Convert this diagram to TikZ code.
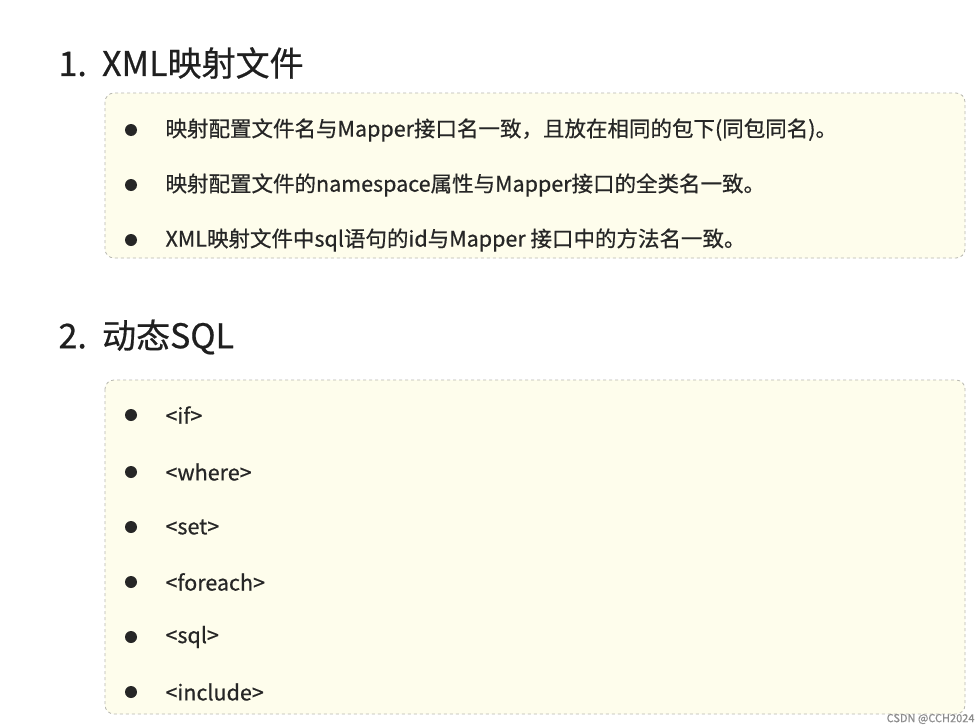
\documentclass[tikz,border=0pt]{standalone}
\usepackage{fontspec}
\setmainfont{Noto Sans CJK SC}[FakeBold=0.6]
\definecolor{boxfill}{HTML}{FEFDEC}
\definecolor{boxline}{HTML}{B8B8B0}
\begin{document}
\begin{tikzpicture}[x=1pt,y=-1pt,
  panel/.style={draw=boxline,dashed,fill=boxfill,rounded corners=9pt,line width=0.8pt},
  title/.style={anchor=west,font=\fontsize{34}{38}\selectfont,text=black!88},
  item/.style={anchor=west,font=\fontsize{21.5}{25}\selectfont,text=black!85},
  dot/.style={circle,fill=black!85,inner sep=0pt,minimum size=12pt}]
\useasboundingbox (0,0) rectangle (980,728);
\fill[white] (0,0) rectangle (980,728);
\node[title] (t1) at (55,63) {1.\ \ XML映射文件};
\path[panel] (105,93) rectangle (965,258);
\foreach \y/\t [count=\i] in {130/{映射配置文件名与Mapper接口名一致，且放在相同的包下(同包同名)。},185/{映射配置文件的namespace属性与Mapper接口的全类名一致。},240/{XML映射文件中sql语句的id与Mapper 接口中的方法名一致。}}{
  \node[dot] (a\i) at (131,\y) {};
  \node[item] (ta\i) at (162,\y) {\t};
}
\node[title] (t2) at (55,337) {2.\ \ 动态SQL};
\path[panel] (105,380) rectangle (965,714);
\foreach \y/\t [count=\i] in {415/{<if>},472/{<where>},527/{<set>},582/{<foreach>},637/{<sql>},692/{<include>}}{
  \node[dot] (b\i) at (131,\y) {};
  \node[item] (tb\i) at (162,\y) {\t};
}
\node[anchor=east,font=\fontsize{11}{12}\selectfont,text=black!45] (wm) at (978,719) {CSDN @CCH2024};
\end{tikzpicture}
\end{document}
